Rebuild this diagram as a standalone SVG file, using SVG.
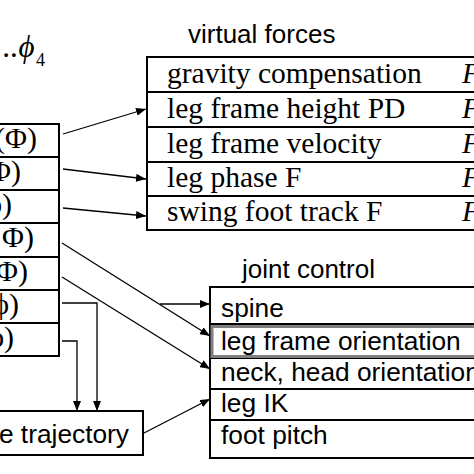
<svg xmlns="http://www.w3.org/2000/svg" width="474" height="474" viewBox="0 0 474 474">
<defs>
<style>
.box{fill:#fff;stroke:#000;stroke-width:2}
.sep{stroke:#000;stroke-width:2}
.serif{font-family:"Liberation Serif","Times New Roman",serif;fill:#000}
.sans{font-family:"Liberation Sans",Arial,sans-serif;fill:#000}
.vf{font-size:29.5px}
.jc{font-size:26.3px}
.lab{font-size:26px}
.in{font-size:30px}
.conn{stroke:#000;stroke-width:1.3;fill:none}
</style>
<marker id="ah" viewBox="0 0 10 8" refX="10" refY="4" markerWidth="10" markerHeight="8" markerUnits="userSpaceOnUse" orient="auto">
<path d="M0,0 L10,4 L0,8 z" fill="#000"/>
</marker>
</defs>
<rect width="474" height="474" fill="#fff"/>

<g id="phi-label">
<text class="serif" x="3" y="57" font-size="31" font-style="italic">..ϕ</text>
<text class="serif" x="36" y="66" font-size="18">4</text>
</g>

<g id="inputs">
<rect class="box" x="-10" y="124" width="69" height="232"/>
<line class="sep" x1="-10" y1="157" x2="59" y2="157"/>
<line class="sep" x1="-10" y1="190" x2="59" y2="190"/>
<line class="sep" x1="-10" y1="223" x2="59" y2="223"/>
<line class="sep" x1="-10" y1="257" x2="59" y2="257"/>
<line class="sep" x1="-10" y1="290" x2="59" y2="290"/>
<line class="sep" x1="-10" y1="323" x2="59" y2="323"/>
<text class="serif in" text-anchor="end" x="37" y="148">(Φ)</text>
<text class="serif in" text-anchor="end" x="21" y="181">Φ)</text>
<text class="serif in" text-anchor="end" x="12" y="214">ϕ)</text>
<text class="serif in" text-anchor="end" x="34" y="247">Φ)</text>
<text class="serif in" text-anchor="end" x="28" y="281">Φ)</text>
<text class="serif in" text-anchor="end" x="19" y="314">ϕ)</text>
<text class="serif in" text-anchor="end" x="14" y="347">ϕ)</text>
</g>

<g id="virtual-forces">
<text class="sans lab" x="188" y="43">virtual forces</text>
<rect class="box" x="147" y="57" width="340" height="173"/>
<line class="sep" x1="147" y1="92" x2="487" y2="92"/>
<line class="sep" x1="147" y1="127" x2="487" y2="127"/>
<line class="sep" x1="147" y1="162" x2="487" y2="162"/>
<line class="sep" x1="147" y1="196" x2="487" y2="196"/>
<text class="serif vf" x="167" y="83">gravity compensation</text>
<text class="serif vf" x="167" y="118">leg frame height PD</text>
<text class="serif vf" x="167" y="153">leg frame velocity</text>
<text class="serif vf" x="167" y="187">leg phase F</text>
<text class="serif vf" x="167" y="221">swing foot track F</text>
<text class="serif vf" x="462" y="83" font-style="italic">F</text>
<text class="serif vf" x="462" y="118" font-style="italic">F</text>
<text class="serif vf" x="462" y="153" font-style="italic">F</text>
<text class="serif vf" x="462" y="187" font-style="italic">F</text>
<text class="serif vf" x="462" y="221" font-style="italic">F</text>
</g>

<g id="joint-control">
<text class="sans lab" x="242" y="278">joint control</text>
<rect class="box" x="210" y="287" width="280" height="171"/>
<line class="sep" x1="210" y1="324" x2="490" y2="324"/>
<line class="sep" x1="210" y1="358" x2="490" y2="358"/>
<line class="sep" x1="210" y1="389" x2="490" y2="389"/>
<line class="sep" x1="210" y1="420" x2="490" y2="420"/>
<rect x="212" y="326.5" width="280" height="30" fill="none" stroke="#808080" stroke-width="3"/>
<text class="sans jc" x="221" y="317">spine</text>
<text class="sans jc" x="221" y="350">leg frame orientation</text>
<text class="sans jc" x="221" y="381">neck, head orientation</text>
<text class="sans jc" x="221" y="412">leg IK</text>
<text class="sans jc" x="221" y="444">foot pitch</text>
</g>

<g id="trajectory">
<rect class="box" x="-10" y="411" width="153" height="44"/>
<text class="sans jc" x="129" y="443" text-anchor="end">e trajectory</text>
</g>

<g id="connectors">
<line class="conn" x1="63" y1="134" x2="146" y2="109" marker-end="url(#ah)"/>
<line class="conn" x1="63" y1="169" x2="146" y2="179" marker-end="url(#ah)"/>
<line class="conn" x1="63" y1="208" x2="146" y2="216" marker-end="url(#ah)"/>
<line class="conn" x1="62" y1="243" x2="210" y2="336" marker-end="url(#ah)"/>
<line class="conn" x1="160" y1="304" x2="210" y2="304" marker-end="url(#ah)"/>
<line class="conn" x1="62" y1="277" x2="210" y2="369" marker-end="url(#ah)"/>
<polyline class="conn" points="62,303 97,303 97,411" marker-end="url(#ah)"/>
<polyline class="conn" points="62,341 77,341 77,411" marker-end="url(#ah)"/>
<line class="conn" x1="144" y1="433" x2="210" y2="399" marker-end="url(#ah)"/>
</g>
</svg>
